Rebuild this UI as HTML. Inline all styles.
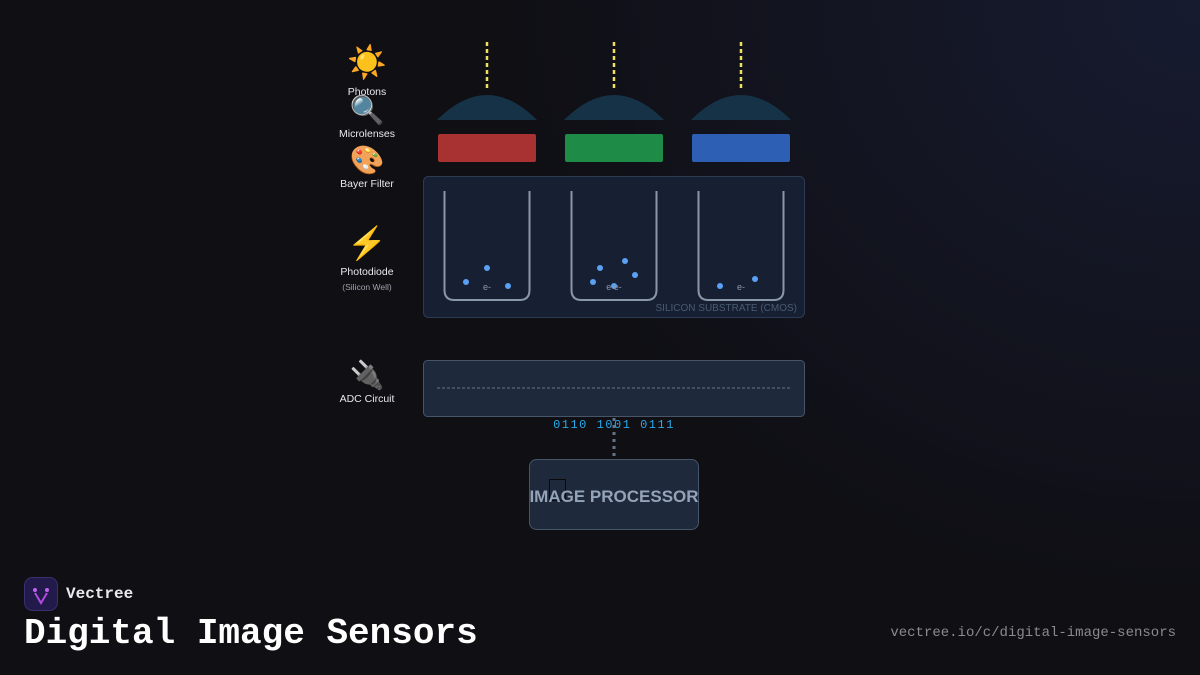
<!DOCTYPE html>
<html><head><meta charset="utf-8"><style>
html,body{margin:0;padding:0;}
body{width:1200px;height:675px;overflow:hidden;position:relative;background:#0f0f14;font-family:"Liberation Sans",sans-serif;}
.bg{position:absolute;inset:0;background:radial-gradient(ellipse 700px 600px at 1200px 0px,#171b30 0%,rgba(15,15,20,0) 100%);}
.t{position:absolute;transform:translateX(-50%);white-space:nowrap;color:#e8e8ee;text-align:center;}
.e{position:absolute;transform:translate(-50%,-50%);font-family:"Noto Color Emoji","DejaVu Sans",sans-serif;}
</style></head><body>
<div class="bg"></div>
<svg width="1200" height="675" style="position:absolute;left:0;top:0">
<g stroke="#f0e060" stroke-width="2.5" stroke-dasharray="4,3">
<line x1="487" y1="42" x2="487" y2="90"/><line x1="614" y1="42" x2="614" y2="90"/><line x1="741" y1="42" x2="741" y2="90"/>
</g>
<g fill="#163246">
<path d="M437 120 Q487 70 537 120Z"/><path d="M564 120 Q614 70 664 120Z"/><path d="M691 120 Q741 70 791 120Z"/>
</g>
<rect x="438" y="134" width="98" height="28" rx="2" fill="#a83232"/>
<rect x="565" y="134" width="98" height="28" rx="2" fill="#1e8c46"/>
<rect x="692" y="134" width="98" height="28" rx="2" fill="#2d5fb4"/>
<rect x="423.5" y="176.5" width="381" height="141" rx="5" fill="#172033" stroke="#2d3b52"/>
<g fill="none" stroke="#8a96aa" stroke-width="2">
<path d="M444.5 191 V290 Q444.5 300 454.5 300 H519.5 Q529.5 300 529.5 290 V191"/>
<path d="M571.5 191 V290 Q571.5 300 581.5 300 H646.5 Q656.5 300 656.5 290 V191"/>
<path d="M698.5 191 V290 Q698.5 300 708.5 300 H773.5 Q783.5 300 783.5 290 V191"/>
</g>
<g fill="#5aa0f5">
<circle cx="466" cy="282" r="3"/><circle cx="487" cy="268" r="3"/><circle cx="508" cy="286" r="3"/>
<circle cx="600" cy="268" r="3"/><circle cx="625" cy="261" r="3"/><circle cx="635" cy="275" r="3"/><circle cx="593" cy="282" r="3"/><circle cx="614" cy="286" r="3"/>
<circle cx="720" cy="286" r="3"/><circle cx="755" cy="279" r="3"/>
</g>
<g fill="#8a96aa" font-family="Liberation Sans" font-size="9" text-anchor="middle">
<text x="487" y="290">e-</text><text x="614" y="290">e e-</text><text x="741" y="290">e-</text>
</g>
<text x="797" y="311" text-anchor="end" font-family="Liberation Sans" font-size="10" fill="#4a5a72">SILICON SUBSTRATE (CMOS)</text>
<rect x="423.5" y="360.5" width="381" height="56" rx="4" fill="#1e293b" stroke="#475569"/>
<line x1="437" y1="388" x2="791" y2="388" stroke="#64748b" stroke-dasharray="3,2"/>
<line x1="614" y1="418" x2="614" y2="457" stroke="#64748b" stroke-width="3" stroke-dasharray="3,4"/>
<text x="614" y="428" text-anchor="middle" font-family="Liberation Mono" font-size="12" letter-spacing="1.5" fill="#2aa8e8">0110 1001 0111</text>
<rect x="529.5" y="459.5" width="169" height="70" rx="7" fill="#1e293b" stroke="#475569"/>
<rect x="549.5" y="479.5" width="16" height="21" fill="none" stroke="#0a0a0a"/>
<text x="614" y="502" text-anchor="middle" font-family="Liberation Sans" font-weight="bold" font-size="17" fill="#94a3b8">IMAGE PROCESSOR</text>
<rect x="24.5" y="577.5" width="33" height="33" rx="8" fill="#221a4a" stroke="#3a2f70"/>
<path d="M35 593 L41 603 L47 593" fill="none" stroke="#b04ae0" stroke-width="2"/>
<circle cx="35" cy="590" r="2" fill="#c060f0"/><circle cx="47" cy="590" r="2" fill="#c060f0"/>
</svg>
<div class="e" style="left:367px;top:62px;font-size:32px">☀️</div>
<div class="t" style="left:367px;top:86px;font-size:10.5px">Photons</div>
<div class="e" style="left:367px;top:110px;font-size:28px">🔍</div>
<div class="t" style="left:367px;top:128px;font-size:10.5px">Microlenses</div>
<div class="e" style="left:367px;top:160px;font-size:28px">🎨</div>
<div class="t" style="left:367px;top:178px;font-size:10.5px">Bayer Filter</div>
<div class="e" style="left:367px;top:243px;font-size:32px">⚡</div>
<div class="t" style="left:367px;top:266px;font-size:10.5px">Photodiode</div>
<div class="t" style="left:367px;top:282px;font-size:8.5px;color:#a0a4b0">(Silicon Well)</div>
<div class="e" style="left:367px;top:375px;font-size:28px">🔌</div>
<div class="t" style="left:367px;top:393px;font-size:10.5px">ADC Circuit</div>
<div style="position:absolute;left:66px;top:585px;font-family:'Liberation Mono',monospace;font-weight:bold;font-size:16px;color:#e8e8ee">Vectree</div>
<div style="position:absolute;left:24px;top:613px;font-family:'Liberation Mono',monospace;font-weight:bold;font-size:36px;color:#ffffff">Digital Image Sensors</div>
<div style="position:absolute;right:24px;top:625px;font-family:'Liberation Mono',monospace;font-size:14px;color:#8a8a90">vectree.io/c/digital-image-sensors</div>
</body></html>
